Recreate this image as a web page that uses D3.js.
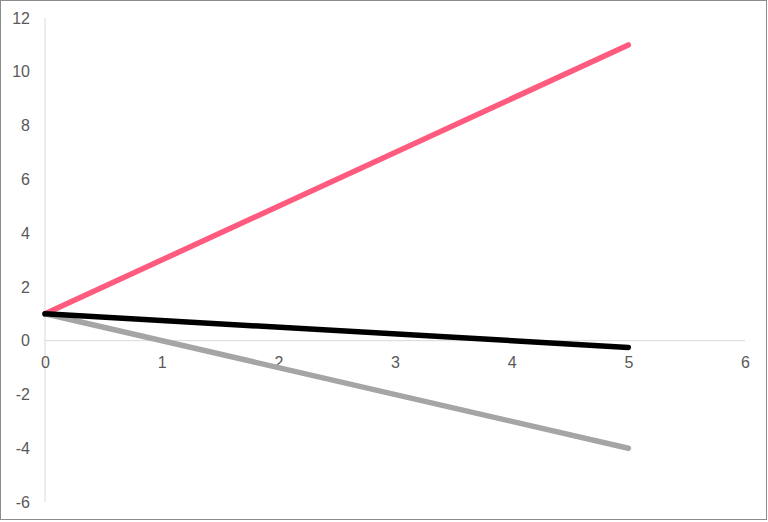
<html>
<head>
    <meta charset="utf-8">
    <title>Lines</title>
    <style>
        body { margin: 0; background: white; }
        svg { display: block; }
        .tick text { fill: #595959; font: 16px "Liberation Sans", Arial, sans-serif; }
    </style>
    <script src="https://cdn.jsdelivr.net/npm/d3@7/dist/d3.min.js"></script>
</head>
<body>
<div id="chart"></div>
<script>
    var xTicks = [0, 1, 2, 3, 4, 5, 6];
    var yTicks = [-6, -4, -2, 0, 2, 4, 6, 8, 10, 12];

    var xValues = [0, 5];
    var pinkValues = [1, 11];
    var blackValues = [1, -0.25];
    var grayValues = [1, -4];

    var series = [
        { color: '#ff5b7f', values: pinkValues },
        { color: '#a5a5a5', values: grayValues },
        { color: '#000000', values: blackValues }
    ];

    var width = 768, height = 522;

    var svg = d3.select('#chart')
            .append('svg')
            .attr('width', width)
            .attr('height', height);

    // outer frame
    svg.append('rect')
            .attr('x', 0.5)
            .attr('y', 0.5)
            .attr('width', 766)
            .attr('height', 519)
            .attr('fill', 'white')
            .attr('stroke', '#8c8c8c');

    var x = d3.scaleLinear().domain([0, 6]).range([45, 745]);
    var y = d3.scaleLinear().domain([-6, 12]).range([502, 18]);

    var fmt = function(d) { return String(d); };

    // y axis line at x = 0, labels on the left
    svg.append('line')
            .attr('x1', x(0)).attr('x2', x(0))
            .attr('y1', y(12)).attr('y2', y(-6))
            .attr('stroke', '#d9d9d9');

    svg.append('g')
            .attr('transform', 'translate(' + x(0) + ',0)')
            .call(d3.axisLeft(y).tickValues(yTicks).tickFormat(fmt).tickSize(0).tickPadding(15))
            .call(function(g) { g.select('.domain').remove(); });

    // x axis line at y = 0
    svg.append('line')
            .attr('x1', x(0)).attr('x2', x(6))
            .attr('y1', y(0)).attr('y2', y(0))
            .attr('stroke', '#d9d9d9');

    svg.append('g')
            .attr('transform', 'translate(0,' + y(0) + ')')
            .call(d3.axisBottom(x).tickValues(xTicks).tickFormat(fmt).tickSize(0).tickPadding(16))
            .call(function(g) { g.select('.domain').remove(); });

    var line = d3.line()
            .x(function(d, i) { return x(xValues[i]); })
            .y(function(d) { return y(d); });

    svg.selectAll('path.series')
            .data(series)
        .enter().append('path')
            .attr('class', 'series')
            .attr('d', function(d) { return line(d.values); })
            .attr('fill', 'none')
            .attr('stroke', function(d) { return d.color; })
            .attr('stroke-width', 5.5)
            .attr('stroke-linecap', 'round');
</script>
</body>
</html>
